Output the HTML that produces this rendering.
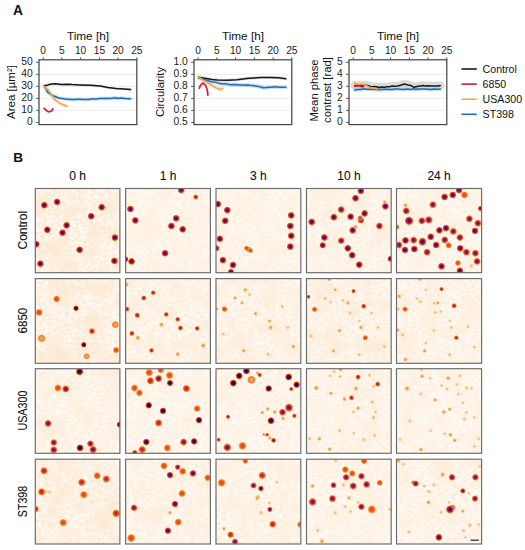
<!DOCTYPE html><html><head><meta charset="utf-8"><style>html,body{margin:0;padding:0;background:#fff;overflow:hidden}svg{display:block}text{font-family:"Liberation Sans", sans-serif}</style></head><body><svg width="525" height="550" viewBox="0 0 525 550"><defs><radialGradient id="gd"><stop offset="0" stop-color="#2a0640" stop-opacity="1"/><stop offset="0.25" stop-color="#50096a" stop-opacity="1"/><stop offset="0.45" stop-color="#8e1466" stop-opacity="1"/><stop offset="0.62" stop-color="#d02842" stop-opacity="1"/><stop offset="0.77" stop-color="#f06020" stop-opacity="1"/><stop offset="0.9" stop-color="#f8b030" stop-opacity="0.8"/><stop offset="1" stop-color="#fcd8a0" stop-opacity="0"/></radialGradient><radialGradient id="gp"><stop offset="0" stop-color="#5a0c6c" stop-opacity="1"/><stop offset="0.3" stop-color="#7e1470" stop-opacity="1"/><stop offset="0.5" stop-color="#c42a50" stop-opacity="1"/><stop offset="0.7" stop-color="#f06a24" stop-opacity="1"/><stop offset="0.87" stop-color="#f8b040" stop-opacity="0.6"/><stop offset="1" stop-color="#fcd8a0" stop-opacity="0"/></radialGradient><radialGradient id="gk"><stop offset="0" stop-color="#12061c" stop-opacity="1"/><stop offset="0.32" stop-color="#2a0838" stop-opacity="1"/><stop offset="0.52" stop-color="#701050" stop-opacity="1"/><stop offset="0.68" stop-color="#cc2a34" stop-opacity="1"/><stop offset="0.82" stop-color="#f47a22" stop-opacity="1"/><stop offset="0.93" stop-color="#f8b040" stop-opacity="0.6"/><stop offset="1" stop-color="#fcd8a0" stop-opacity="0"/></radialGradient><radialGradient id="gq"><stop offset="0" stop-color="#9a1a70" stop-opacity="1"/><stop offset="0.22" stop-color="#b8204e" stop-opacity="1"/><stop offset="0.45" stop-color="#e2401e" stop-opacity="1"/><stop offset="0.7" stop-color="#f26a18" stop-opacity="1"/><stop offset="0.86" stop-color="#f8a840" stop-opacity="0.7"/><stop offset="1" stop-color="#fcd8a0" stop-opacity="0"/></radialGradient><radialGradient id="go"><stop offset="0" stop-color="#e0401a" stop-opacity="1"/><stop offset="0.4" stop-color="#ec5618" stop-opacity="1"/><stop offset="0.66" stop-color="#f47e2c" stop-opacity="1"/><stop offset="0.85" stop-color="#f8b060" stop-opacity="0.6"/><stop offset="1" stop-color="#fcd8a0" stop-opacity="0"/></radialGradient><radialGradient id="gr"><stop offset="0" stop-color="#8a0c3c" stop-opacity="1"/><stop offset="0.28" stop-color="#c42030" stop-opacity="1"/><stop offset="0.6" stop-color="#ee6424" stop-opacity="1"/><stop offset="0.84" stop-color="#f8a860" stop-opacity="0.6"/><stop offset="1" stop-color="#fcd8a0" stop-opacity="0"/></radialGradient><radialGradient id="gl"><stop offset="0" stop-color="#f5a03c" stop-opacity="0.9"/><stop offset="0.5" stop-color="#f8bc6c" stop-opacity="0.6"/><stop offset="1" stop-color="#fbd8a8" stop-opacity="0"/></radialGradient><radialGradient id="gm"><stop offset="0" stop-color="#f28224" stop-opacity="1"/><stop offset="0.5" stop-color="#f6a44a" stop-opacity="0.8"/><stop offset="1" stop-color="#fcd8a0" stop-opacity="0"/></radialGradient><radialGradient id="gh"><stop offset="0" stop-color="#f6b070" stop-opacity="0.9"/><stop offset="0.45" stop-color="#f3903c" stop-opacity="1"/><stop offset="0.68" stop-color="#f07a28" stop-opacity="1"/><stop offset="0.85" stop-color="#f8a858" stop-opacity="0.6"/><stop offset="1" stop-color="#fcd8a0" stop-opacity="0"/></radialGradient></defs><filter id="tex" x="0" y="0" width="100%" height="100%"><feTurbulence type="fractalNoise" baseFrequency="0.25 0.45" numOctaves="2" seed="5" result="n1"/><feColorMatrix in="n1" type="matrix" values="0 0 0 0 0.98  0 0 0 0 0.80  0 0 0 0 0.62  3.5 0 0 0 -1.35" result="a1"/><feTurbulence type="fractalNoise" baseFrequency="0.05" numOctaves="2" seed="11" result="n2"/><feColorMatrix in="n2" type="matrix" values="0 0 0 0 0.98  0 0 0 0 0.82  0 0 0 0 0.66  3 0 0 0 -1.3" result="a2"/><feMerge><feMergeNode in="a2"/><feMergeNode in="a1"/></feMerge></filter><rect width="525" height="550" fill="#fff"/><text x="12.9" y="15.2" font-size="13.8" font-weight="bold" fill="#111">A</text><text x="13.2" y="161.5" font-size="13.6" font-weight="bold" fill="#111">B</text><rect x="39.0" y="59.8" width="97.80000000000001" height="64.8" fill="#fff"/><line x1="40.0" x2="135.8" y1="110.4" y2="110.4" stroke="#e6e6e6" stroke-width="0.8"/><line x1="40.0" x2="135.8" y1="98.4" y2="98.4" stroke="#e6e6e6" stroke-width="0.8"/><line x1="40.0" x2="135.8" y1="86.3" y2="86.3" stroke="#e6e6e6" stroke-width="0.8"/><line x1="40.0" x2="135.8" y1="74.3" y2="74.3" stroke="#e6e6e6" stroke-width="0.8"/><polyline points="44.4,85.6 46.9,85.4 49.1,84.5 52.0,84.0 55.2,83.7 58.0,84.0 60.6,84.4 63.5,84.4 66.7,84.2 72.0,84.6 80.0,84.9 90.0,85.2 100.0,86.0 108.0,87.5 116.0,88.5 124.0,89.0 130.5,89.6" fill="none" stroke="#bdbdbd" stroke-width="2.5" stroke-linejoin="round" stroke-linecap="round" opacity="0.55"/><polyline points="44.6,86.5 45.5,88.0 47.6,92.1 52.2,95.5 59.0,98.0 66.7,99.3 69.2,99.2 71.8,99.5 74.3,99.5 77.2,99.2 80.0,99.2 83.0,99.6 86.0,99.6 88.6,99.5 91.2,99.0 93.7,99.1 96.3,98.9 99.5,98.6 102.8,98.4 106.0,98.2 109.0,98.5 112.0,98.2 115.7,97.8 118.0,98.4 120.5,98.1 123.0,98.3 125.5,98.6 128.0,98.8 130.5,98.8" fill="none" stroke="#9cc4ea" stroke-width="3.5" stroke-linejoin="round" stroke-linecap="round" opacity="0.55"/><polyline points="44.6,86.5 46.0,88.2 48.4,90.2 51.4,94.8 55.2,100.1 59.8,103.1 63.0,104.8 66.7,106.2" fill="none" stroke="#f8cfa0" stroke-width="3.5" stroke-linejoin="round" stroke-linecap="round" opacity="0.55"/><polyline points="44.2,108.4 46.3,110.4 48.4,111.8 50.3,111.4 52.2,110.3 52.8,108.8" fill="none" stroke="#f0a0b0" stroke-width="2.5" stroke-linejoin="round" stroke-linecap="round" opacity="0.55"/><polyline points="44.4,85.6 46.9,85.4 49.1,84.5 52.0,84.0 55.2,83.7 58.0,84.0 60.6,84.4 63.5,84.4 66.7,84.2 72.0,84.6 80.0,84.9 90.0,85.2 100.0,86.0 108.0,87.5 116.0,88.5 124.0,89.0 130.5,89.6" fill="none" stroke="#1a1a1a" stroke-width="1.5" stroke-linejoin="round" stroke-linecap="round" opacity="1.0"/><polyline points="44.6,86.5 45.5,88.0 47.6,92.1 52.2,95.5 59.0,98.0 66.7,99.3 69.2,99.2 71.8,99.5 74.3,99.5 77.2,99.2 80.0,99.2 83.0,99.6 86.0,99.6 88.6,99.5 91.2,99.0 93.7,99.1 96.3,98.9 99.5,98.6 102.8,98.4 106.0,98.2 109.0,98.5 112.0,98.2 115.7,97.8 118.0,98.4 120.5,98.1 123.0,98.3 125.5,98.6 128.0,98.8 130.5,98.8" fill="none" stroke="#1f6fbf" stroke-width="1.5" stroke-linejoin="round" stroke-linecap="round" opacity="1.0"/><polyline points="44.6,86.5 46.0,88.2 48.4,90.2 51.4,94.8 55.2,100.1 59.8,103.1 63.0,104.8 66.7,106.2" fill="none" stroke="#f5a64a" stroke-width="1.5" stroke-linejoin="round" stroke-linecap="round" opacity="1.0"/><polyline points="44.2,108.4 46.3,110.4 48.4,111.8 50.3,111.4 52.2,110.3 52.8,108.8" fill="none" stroke="#d8163c" stroke-width="1.5" stroke-linejoin="round" stroke-linecap="round" opacity="1.0"/><rect x="39.0" y="59.8" width="97.80000000000001" height="64.8" fill="none" stroke="#474747" stroke-width="1.25"/><line x1="43.2" x2="43.2" y1="59.8" y2="57.3" stroke="#505050" stroke-width="1"/><text x="43.2" y="53.6" font-size="10.2" text-anchor="middle" fill="#222">0</text><line x1="61.9" x2="61.9" y1="59.8" y2="57.3" stroke="#505050" stroke-width="1"/><text x="61.9" y="53.6" font-size="10.2" text-anchor="middle" fill="#222">5</text><line x1="80.6" x2="80.6" y1="59.8" y2="57.3" stroke="#505050" stroke-width="1"/><text x="80.6" y="53.6" font-size="10.2" text-anchor="middle" fill="#222">10</text><line x1="99.4" x2="99.4" y1="59.8" y2="57.3" stroke="#505050" stroke-width="1"/><text x="99.4" y="53.6" font-size="10.2" text-anchor="middle" fill="#222">15</text><line x1="118.1" x2="118.1" y1="59.8" y2="57.3" stroke="#505050" stroke-width="1"/><text x="118.1" y="53.6" font-size="10.2" text-anchor="middle" fill="#222">20</text><line x1="136.8" x2="136.8" y1="59.8" y2="57.3" stroke="#505050" stroke-width="1"/><text x="136.8" y="53.6" font-size="10.2" text-anchor="middle" fill="#222">25</text><text x="88" y="40" font-size="11.8" text-anchor="middle" fill="#111">Time [h]</text><line x1="36.2" x2="39.0" y1="122.4" y2="122.4" stroke="#505050" stroke-width="1"/><text x="32.8" y="125.4" font-size="10.3" text-anchor="end" fill="#222">0</text><line x1="36.2" x2="39.0" y1="110.4" y2="110.4" stroke="#505050" stroke-width="1"/><text x="32.8" y="113.4" font-size="10.3" text-anchor="end" fill="#222">10</text><line x1="36.2" x2="39.0" y1="98.4" y2="98.4" stroke="#505050" stroke-width="1"/><text x="32.8" y="101.4" font-size="10.3" text-anchor="end" fill="#222">20</text><line x1="36.2" x2="39.0" y1="86.3" y2="86.3" stroke="#505050" stroke-width="1"/><text x="32.8" y="89.3" font-size="10.3" text-anchor="end" fill="#222">30</text><line x1="36.2" x2="39.0" y1="74.3" y2="74.3" stroke="#505050" stroke-width="1"/><text x="32.8" y="77.3" font-size="10.3" text-anchor="end" fill="#222">40</text><line x1="36.2" x2="39.0" y1="62.3" y2="62.3" stroke="#505050" stroke-width="1"/><text x="32.8" y="65.3" font-size="10.3" text-anchor="end" fill="#222">50</text><rect x="194.0" y="59.8" width="97.80000000000001" height="64.8" fill="#fff"/><line x1="195.0" x2="290.8" y1="110.4" y2="110.4" stroke="#e6e6e6" stroke-width="0.8"/><line x1="195.0" x2="290.8" y1="98.4" y2="98.4" stroke="#e6e6e6" stroke-width="0.8"/><line x1="195.0" x2="290.8" y1="86.3" y2="86.3" stroke="#e6e6e6" stroke-width="0.8"/><line x1="195.0" x2="290.8" y1="74.3" y2="74.3" stroke="#e6e6e6" stroke-width="0.8"/><polyline points="198.8,77.2 203.0,77.9 207.7,78.7 212.0,79.4 217.5,80.1 227.3,80.3 237.1,79.7 248.9,78.3 260.7,77.6 270.5,77.4 278.3,77.8 285.8,78.7" fill="none" stroke="#bdbdbd" stroke-width="3" stroke-linejoin="round" stroke-linecap="round" opacity="0.55"/><polyline points="198.8,77.8 203.0,79.2 207.7,80.5 210.8,81.7 214.0,81.9 217.7,82.9 221.4,83.8 224.7,83.7 227.9,84.3 231.2,84.7 233.8,84.4 236.4,84.7 239.1,85.0 241.7,85.0 244.3,85.2 246.9,85.0 249.8,85.3 252.8,85.5 255.8,86.0 258.7,86.5 263.6,87.7 266.3,87.6 269.0,87.2 271.7,87.3 274.4,86.8 277.2,86.9 280.1,87.2 282.9,87.3 285.8,87.2" fill="none" stroke="#9cc4ea" stroke-width="4" stroke-linejoin="round" stroke-linecap="round" opacity="0.55"/><polyline points="198.8,76.8 201.0,78.5 203.8,80.7 209.7,84.0 215.5,87.6 220.4,89.5 222.4,88.5" fill="none" stroke="#f8cfa0" stroke-width="4" stroke-linejoin="round" stroke-linecap="round" opacity="0.55"/><polyline points="199.3,88.2 200.6,85.0 203.0,83.1 205.2,84.8 206.8,88.5 207.6,92.0 207.8,95.2" fill="none" stroke="#f0a0b0" stroke-width="2.5" stroke-linejoin="round" stroke-linecap="round" opacity="0.55"/><polyline points="198.8,77.2 203.0,77.9 207.7,78.7 212.0,79.4 217.5,80.1 227.3,80.3 237.1,79.7 248.9,78.3 260.7,77.6 270.5,77.4 278.3,77.8 285.8,78.7" fill="none" stroke="#1a1a1a" stroke-width="1.5" stroke-linejoin="round" stroke-linecap="round" opacity="1.0"/><polyline points="198.8,77.8 203.0,79.2 207.7,80.5 210.8,81.7 214.0,81.9 217.7,82.9 221.4,83.8 224.7,83.7 227.9,84.3 231.2,84.7 233.8,84.4 236.4,84.7 239.1,85.0 241.7,85.0 244.3,85.2 246.9,85.0 249.8,85.3 252.8,85.5 255.8,86.0 258.7,86.5 263.6,87.7 266.3,87.6 269.0,87.2 271.7,87.3 274.4,86.8 277.2,86.9 280.1,87.2 282.9,87.3 285.8,87.2" fill="none" stroke="#1f6fbf" stroke-width="1.5" stroke-linejoin="round" stroke-linecap="round" opacity="1.0"/><polyline points="198.8,76.8 201.0,78.5 203.8,80.7 209.7,84.0 215.5,87.6 220.4,89.5 222.4,88.5" fill="none" stroke="#f5a64a" stroke-width="1.5" stroke-linejoin="round" stroke-linecap="round" opacity="1.0"/><polyline points="199.3,88.2 200.6,85.0 203.0,83.1 205.2,84.8 206.8,88.5 207.6,92.0 207.8,95.2" fill="none" stroke="#d8163c" stroke-width="1.5" stroke-linejoin="round" stroke-linecap="round" opacity="1.0"/><rect x="194.0" y="59.8" width="97.80000000000001" height="64.8" fill="none" stroke="#474747" stroke-width="1.25"/><line x1="198.2" x2="198.2" y1="59.8" y2="57.3" stroke="#505050" stroke-width="1"/><text x="198.2" y="53.6" font-size="10.2" text-anchor="middle" fill="#222">0</text><line x1="216.9" x2="216.9" y1="59.8" y2="57.3" stroke="#505050" stroke-width="1"/><text x="216.9" y="53.6" font-size="10.2" text-anchor="middle" fill="#222">5</text><line x1="235.6" x2="235.6" y1="59.8" y2="57.3" stroke="#505050" stroke-width="1"/><text x="235.6" y="53.6" font-size="10.2" text-anchor="middle" fill="#222">10</text><line x1="254.4" x2="254.4" y1="59.8" y2="57.3" stroke="#505050" stroke-width="1"/><text x="254.4" y="53.6" font-size="10.2" text-anchor="middle" fill="#222">15</text><line x1="273.1" x2="273.1" y1="59.8" y2="57.3" stroke="#505050" stroke-width="1"/><text x="273.1" y="53.6" font-size="10.2" text-anchor="middle" fill="#222">20</text><line x1="291.8" x2="291.8" y1="59.8" y2="57.3" stroke="#505050" stroke-width="1"/><text x="291.8" y="53.6" font-size="10.2" text-anchor="middle" fill="#222">25</text><text x="243" y="40" font-size="11.8" text-anchor="middle" fill="#111">Time [h]</text><line x1="191.2" x2="194.0" y1="122.4" y2="122.4" stroke="#505050" stroke-width="1"/><text x="187.8" y="125.4" font-size="10.3" text-anchor="end" fill="#222">0.5</text><line x1="191.2" x2="194.0" y1="110.4" y2="110.4" stroke="#505050" stroke-width="1"/><text x="187.8" y="113.4" font-size="10.3" text-anchor="end" fill="#222">0.6</text><line x1="191.2" x2="194.0" y1="98.4" y2="98.4" stroke="#505050" stroke-width="1"/><text x="187.8" y="101.4" font-size="10.3" text-anchor="end" fill="#222">0.7</text><line x1="191.2" x2="194.0" y1="86.3" y2="86.3" stroke="#505050" stroke-width="1"/><text x="187.8" y="89.3" font-size="10.3" text-anchor="end" fill="#222">0.8</text><line x1="191.2" x2="194.0" y1="74.3" y2="74.3" stroke="#505050" stroke-width="1"/><text x="187.8" y="77.3" font-size="10.3" text-anchor="end" fill="#222">0.9</text><line x1="191.2" x2="194.0" y1="62.3" y2="62.3" stroke="#505050" stroke-width="1"/><text x="187.8" y="65.3" font-size="10.3" text-anchor="end" fill="#222">1.0</text><rect x="349.0" y="59.8" width="97.80000000000001" height="64.8" fill="#fff"/><line x1="350.0" x2="445.8" y1="110.4" y2="110.4" stroke="#e6e6e6" stroke-width="0.8"/><line x1="350.0" x2="445.8" y1="98.4" y2="98.4" stroke="#e6e6e6" stroke-width="0.8"/><line x1="350.0" x2="445.8" y1="86.3" y2="86.3" stroke="#e6e6e6" stroke-width="0.8"/><line x1="350.0" x2="445.8" y1="74.3" y2="74.3" stroke="#e6e6e6" stroke-width="0.8"/><polyline points="354.8,85.6 357.0,85.7 359.1,85.4 361.3,85.4 363.5,85.3 366.1,85.3 368.7,85.7 371.3,86.9 373.9,86.6 376.5,86.7 379.1,87.5 381.7,87.0 384.3,87.2 386.9,86.8 389.5,86.7 392.0,86.1 394.6,86.3 397.6,86.0 400.5,85.2 404.3,84.0 408.2,85.0 411.1,85.6 414.1,87.3 418.0,86.3 420.6,85.9 423.1,85.5 425.7,86.1 428.3,85.8 430.9,86.0 433.5,86.1 435.8,85.9 438.0,86.0 440.3,85.6" fill="none" stroke="#bdbdbd" stroke-width="8.5" stroke-linejoin="round" stroke-linecap="round" opacity="0.55"/><polyline points="354.8,90.0 357.7,89.6 360.6,89.5 363.5,88.8 366.4,89.2 369.2,89.3 372.1,89.2 375.0,89.6 378.0,89.3 380.9,89.5 383.9,89.3 386.9,89.3 389.5,89.4 392.1,89.6 394.8,89.1 397.4,89.1 400.0,89.3 402.7,89.5 405.3,89.2 408.0,89.1 410.7,89.4 413.3,88.8 416.0,89.3 419.0,89.0 422.0,89.0 425.0,89.0 428.0,89.2 431.1,89.4 434.1,89.0 437.2,89.2 440.3,89.1" fill="none" stroke="#9cc4ea" stroke-width="3.5" stroke-linejoin="round" stroke-linecap="round" opacity="0.55"/><polyline points="354.8,83.0 358.0,84.5 362.0,84.0 366.0,85.5 370.0,87.5 377.1,89.1" fill="none" stroke="#f8cfa0" stroke-width="5" stroke-linejoin="round" stroke-linecap="round" opacity="0.55"/><polyline points="354.8,86.2 358.0,85.5 361.0,86.5 363.5,86.8" fill="none" stroke="#f0a0b0" stroke-width="3" stroke-linejoin="round" stroke-linecap="round" opacity="0.55"/><polyline points="354.8,85.6 357.0,85.7 359.1,85.4 361.3,85.4 363.5,85.3 366.1,85.3 368.7,85.7 371.3,86.9 373.9,86.6 376.5,86.7 379.1,87.5 381.7,87.0 384.3,87.2 386.9,86.8 389.5,86.7 392.0,86.1 394.6,86.3 397.6,86.0 400.5,85.2 404.3,84.0 408.2,85.0 411.1,85.6 414.1,87.3 418.0,86.3 420.6,85.9 423.1,85.5 425.7,86.1 428.3,85.8 430.9,86.0 433.5,86.1 435.8,85.9 438.0,86.0 440.3,85.6" fill="none" stroke="#1a1a1a" stroke-width="1.5" stroke-linejoin="round" stroke-linecap="round" opacity="1.0"/><polyline points="354.8,90.0 357.7,89.6 360.6,89.5 363.5,88.8 366.4,89.2 369.2,89.3 372.1,89.2 375.0,89.6 378.0,89.3 380.9,89.5 383.9,89.3 386.9,89.3 389.5,89.4 392.1,89.6 394.8,89.1 397.4,89.1 400.0,89.3 402.7,89.5 405.3,89.2 408.0,89.1 410.7,89.4 413.3,88.8 416.0,89.3 419.0,89.0 422.0,89.0 425.0,89.0 428.0,89.2 431.1,89.4 434.1,89.0 437.2,89.2 440.3,89.1" fill="none" stroke="#1f6fbf" stroke-width="1.5" stroke-linejoin="round" stroke-linecap="round" opacity="1.0"/><polyline points="354.8,83.0 358.0,84.5 362.0,84.0 366.0,85.5 370.0,87.5 377.1,89.1" fill="none" stroke="#f5a64a" stroke-width="1.5" stroke-linejoin="round" stroke-linecap="round" opacity="1.0"/><polyline points="354.8,86.2 358.0,85.5 361.0,86.5 363.5,86.8" fill="none" stroke="#d8163c" stroke-width="1.5" stroke-linejoin="round" stroke-linecap="round" opacity="1.0"/><rect x="349.0" y="59.8" width="97.80000000000001" height="64.8" fill="none" stroke="#474747" stroke-width="1.25"/><line x1="353.2" x2="353.2" y1="59.8" y2="57.3" stroke="#505050" stroke-width="1"/><text x="353.2" y="53.6" font-size="10.2" text-anchor="middle" fill="#222">0</text><line x1="371.9" x2="371.9" y1="59.8" y2="57.3" stroke="#505050" stroke-width="1"/><text x="371.9" y="53.6" font-size="10.2" text-anchor="middle" fill="#222">5</text><line x1="390.6" x2="390.6" y1="59.8" y2="57.3" stroke="#505050" stroke-width="1"/><text x="390.6" y="53.6" font-size="10.2" text-anchor="middle" fill="#222">10</text><line x1="409.4" x2="409.4" y1="59.8" y2="57.3" stroke="#505050" stroke-width="1"/><text x="409.4" y="53.6" font-size="10.2" text-anchor="middle" fill="#222">15</text><line x1="428.1" x2="428.1" y1="59.8" y2="57.3" stroke="#505050" stroke-width="1"/><text x="428.1" y="53.6" font-size="10.2" text-anchor="middle" fill="#222">20</text><line x1="446.8" x2="446.8" y1="59.8" y2="57.3" stroke="#505050" stroke-width="1"/><text x="446.8" y="53.6" font-size="10.2" text-anchor="middle" fill="#222">25</text><text x="398" y="40" font-size="11.8" text-anchor="middle" fill="#111">Time [h]</text><line x1="346.2" x2="349.0" y1="122.4" y2="122.4" stroke="#505050" stroke-width="1"/><text x="342.8" y="125.4" font-size="10.3" text-anchor="end" fill="#222">0</text><line x1="346.2" x2="349.0" y1="110.4" y2="110.4" stroke="#505050" stroke-width="1"/><text x="342.8" y="113.4" font-size="10.3" text-anchor="end" fill="#222">1</text><line x1="346.2" x2="349.0" y1="98.4" y2="98.4" stroke="#505050" stroke-width="1"/><text x="342.8" y="101.4" font-size="10.3" text-anchor="end" fill="#222">2</text><line x1="346.2" x2="349.0" y1="86.3" y2="86.3" stroke="#505050" stroke-width="1"/><text x="342.8" y="89.3" font-size="10.3" text-anchor="end" fill="#222">3</text><line x1="346.2" x2="349.0" y1="74.3" y2="74.3" stroke="#505050" stroke-width="1"/><text x="342.8" y="77.3" font-size="10.3" text-anchor="end" fill="#222">4</text><line x1="346.2" x2="349.0" y1="62.3" y2="62.3" stroke="#505050" stroke-width="1"/><text x="342.8" y="65.3" font-size="10.3" text-anchor="end" fill="#222">5</text><text transform="translate(14.6,92) rotate(-90)" font-size="11.5" text-anchor="middle" fill="#111">Area [µm²]</text><text transform="translate(164.4,92) rotate(-90)" font-size="11.3" text-anchor="middle" fill="#111">Circularity</text><text transform="translate(318.2,90.5) rotate(-90)" font-size="11.3" text-anchor="middle" fill="#111">Mean phase</text><text transform="translate(330.6,90) rotate(-90)" font-size="11.3" text-anchor="middle" fill="#111">contrast [rad]</text><line x1="461.5" x2="476.8" y1="69.0" y2="69.0" stroke="#1a1a1a" stroke-width="1.6"/><text x="482.6" y="72.8" font-size="10.6" fill="#111">Control</text><line x1="461.5" x2="476.8" y1="84.1" y2="84.1" stroke="#d8163c" stroke-width="1.6"/><text x="482.6" y="87.9" font-size="10.6" fill="#111">6850</text><line x1="461.5" x2="476.8" y1="99.2" y2="99.2" stroke="#f5a64a" stroke-width="1.6"/><text x="482.6" y="103.0" font-size="10.6" fill="#111">USA300</text><line x1="461.5" x2="476.8" y1="114.3" y2="114.3" stroke="#1f6fbf" stroke-width="1.6"/><text x="482.6" y="118.1" font-size="10.6" fill="#111">ST398</text><text x="77.6" y="180.4" font-size="12" text-anchor="middle" fill="#111" stroke="#111" stroke-width="0.1">0 h</text><text x="168.0" y="180.4" font-size="12" text-anchor="middle" fill="#111" stroke="#111" stroke-width="0.1">1 h</text><text x="258.4" y="180.4" font-size="12" text-anchor="middle" fill="#111" stroke="#111" stroke-width="0.1">3 h</text><text x="348.9" y="180.4" font-size="12" text-anchor="middle" fill="#111" stroke="#111" stroke-width="0.1">10 h</text><text x="439.1" y="180.4" font-size="12" text-anchor="middle" fill="#111" stroke="#111" stroke-width="0.1">24 h</text><text transform="translate(27.4,230.2) rotate(-90)" font-size="12.4" text-anchor="middle" textLength="38.6" lengthAdjust="spacingAndGlyphs" fill="#111" stroke="#111" stroke-width="0.1">Control</text><text transform="translate(27.4,320.6) rotate(-90)" font-size="12.4" text-anchor="middle" textLength="25.6" lengthAdjust="spacingAndGlyphs" fill="#111" stroke="#111" stroke-width="0.1">6850</text><text transform="translate(27.4,410.6) rotate(-90)" font-size="12.4" text-anchor="middle" textLength="40.0" lengthAdjust="spacingAndGlyphs" fill="#111" stroke="#111" stroke-width="0.1">USA300</text><text transform="translate(27.4,501.5) rotate(-90)" font-size="12.4" text-anchor="middle" textLength="31.3" lengthAdjust="spacingAndGlyphs" fill="#111" stroke="#111" stroke-width="0.1">ST398</text><clipPath id="cp00"><rect x="35.3" y="188.5" width="84.6" height="84.2"/></clipPath><g clip-path="url(#cp00)"><rect x="35.3" y="188.5" width="84.6" height="84.2" fill="#fffaf5"/><g transform="rotate(-35 77.8 231.0)"><rect x="10.299999999999997" y="163.5" width="135.0" height="135.0" filter="url(#tex)" opacity="0.95"/></g><circle cx="44.3" cy="205.2" r="3.75" fill="url(#gd)"/><circle cx="57.1" cy="201.9" r="3.75" fill="url(#gd)"/><circle cx="101.7" cy="207.2" r="3.75" fill="url(#gd)"/><circle cx="91.2" cy="216.2" r="3.75" fill="url(#gd)"/><circle cx="66.6" cy="225.3" r="3.75" fill="url(#gd)"/><circle cx="47.3" cy="229.8" r="3.75" fill="url(#gd)"/><circle cx="62.5" cy="232.7" r="3.75" fill="url(#gd)"/><circle cx="114.9" cy="237.6" r="3.75" fill="url(#gd)"/><circle cx="36.3" cy="244.2" r="3.75" fill="url(#gd)"/><circle cx="79.6" cy="249.8" r="3.75" fill="url(#gd)"/><circle cx="40.4" cy="263.7" r="3.75" fill="url(#gd)"/><circle cx="114.4" cy="260.9" r="3.75" fill="url(#gd)"/></g><rect x="35.3" y="188.5" width="84.6" height="84.2" fill="none" stroke="#6e6e6e" stroke-width="1.2"/><clipPath id="cp01"><rect x="125.6" y="188.5" width="84.8" height="84.2"/></clipPath><g clip-path="url(#cp01)"><rect x="125.6" y="188.5" width="84.8" height="84.2" fill="#fffaf5"/><g transform="rotate(-15 168.1 231.0)"><rect x="100.6" y="163.5" width="135.0" height="135.0" filter="url(#tex)" opacity="0.55"/></g><circle cx="181.2" cy="190.0" r="3.75" fill="url(#gd)"/><circle cx="195.8" cy="197.0" r="3.00" fill="url(#gr)"/><circle cx="130.4" cy="209.0" r="3.75" fill="url(#gd)"/><circle cx="135.3" cy="220.4" r="3.75" fill="url(#gd)"/><circle cx="176.1" cy="218.3" r="3.75" fill="url(#gd)"/><circle cx="171.4" cy="226.0" r="3.75" fill="url(#gd)"/><circle cx="182.7" cy="229.3" r="3.75" fill="url(#gd)"/><circle cx="165.1" cy="253.2" r="3.75" fill="url(#gd)"/><circle cx="131.6" cy="261.4" r="3.75" fill="url(#gd)"/><circle cx="125.5" cy="259.3" r="3.20" fill="url(#gd)"/></g><rect x="125.6" y="188.5" width="84.8" height="84.2" fill="none" stroke="#6e6e6e" stroke-width="1.2"/><clipPath id="cp02"><rect x="216.0" y="188.5" width="84.8" height="84.2"/></clipPath><g clip-path="url(#cp02)"><rect x="216.0" y="188.5" width="84.8" height="84.2" fill="#fffaf5"/><g transform="rotate(5 258.5 231.0)"><rect x="191.0" y="163.5" width="135.0" height="135.0" filter="url(#tex)" opacity="0.55"/></g><circle cx="217.9" cy="204.1" r="3.75" fill="url(#gd)"/><circle cx="227.3" cy="210.1" r="3.75" fill="url(#gd)"/><circle cx="225.2" cy="220.8" r="3.75" fill="url(#gd)"/><circle cx="219.9" cy="238.8" r="3.75" fill="url(#gd)"/><circle cx="216.3" cy="248.3" r="3.40" fill="url(#gd)"/><circle cx="222.9" cy="260.1" r="3.75" fill="url(#gd)"/><circle cx="233.0" cy="265.0" r="3.75" fill="url(#gd)"/><circle cx="231.0" cy="271.9" r="3.40" fill="url(#gd)"/><circle cx="291.2" cy="215.4" r="3.75" fill="url(#gd)"/><circle cx="290.3" cy="226.0" r="3.75" fill="url(#gd)"/><circle cx="291.2" cy="235.8" r="3.75" fill="url(#gd)"/><circle cx="290.3" cy="246.6" r="3.75" fill="url(#gd)"/><circle cx="248.6" cy="249.4" r="3.20" fill="url(#go)"/><circle cx="246.5" cy="248.2" r="2.80" fill="url(#go)"/><circle cx="250.5" cy="250.6" r="2.80" fill="url(#go)"/></g><rect x="216.0" y="188.5" width="84.8" height="84.2" fill="none" stroke="#6e6e6e" stroke-width="1.2"/><clipPath id="cp03"><rect x="306.5" y="188.5" width="84.7" height="84.2"/></clipPath><g clip-path="url(#cp03)"><rect x="306.5" y="188.5" width="84.7" height="84.2" fill="#fffaf5"/><g transform="rotate(-35 349.0 231.0)"><rect x="281.5" y="163.5" width="135.0" height="135.0" filter="url(#tex)" opacity="0.65"/></g><circle cx="360.9" cy="190.9" r="3.75" fill="url(#gd)"/><circle cx="355.5" cy="198.2" r="3.75" fill="url(#gd)"/><circle cx="385.4" cy="206.3" r="3.75" fill="url(#gd)"/><circle cx="384.7" cy="202.0" r="2.40" fill="url(#gm)"/><circle cx="341.2" cy="209.6" r="4.00" fill="url(#gp)"/><circle cx="333.8" cy="217.2" r="3.75" fill="url(#gd)"/><circle cx="350.6" cy="216.7" r="3.75" fill="url(#gd)"/><circle cx="364.6" cy="213.4" r="3.75" fill="url(#gd)"/><circle cx="360.9" cy="220.2" r="3.80" fill="url(#gp)"/><circle cx="360.2" cy="218.0" r="3.00" fill="url(#go)"/><circle cx="311.7" cy="221.9" r="3.75" fill="url(#gd)"/><circle cx="379.4" cy="226.0" r="4.00" fill="url(#gp)"/><circle cx="352.7" cy="230.3" r="3.75" fill="url(#gd)"/><circle cx="355.5" cy="226.8" r="2.60" fill="url(#gm)"/><circle cx="324.3" cy="237.5" r="3.75" fill="url(#gd)"/><circle cx="322.7" cy="245.3" r="3.40" fill="url(#gd)"/><circle cx="341.2" cy="240.7" r="3.80" fill="url(#gp)"/><circle cx="347.8" cy="248.3" r="3.75" fill="url(#gd)"/><circle cx="352.2" cy="255.2" r="3.75" fill="url(#gd)"/><circle cx="359.2" cy="264.7" r="3.75" fill="url(#gd)"/><circle cx="390.4" cy="258.8" r="3.20" fill="url(#gd)"/></g><rect x="306.5" y="188.5" width="84.7" height="84.2" fill="none" stroke="#6e6e6e" stroke-width="1.2"/><clipPath id="cp04"><rect x="396.5" y="188.5" width="85.1" height="84.2"/></clipPath><g clip-path="url(#cp04)"><rect x="396.5" y="188.5" width="85.1" height="84.2" fill="#fffaf5"/><g transform="rotate(-15 439.0 231.0)"><rect x="371.5" y="163.5" width="135.0" height="135.0" filter="url(#tex)" opacity="0.55"/></g><circle cx="459.1" cy="190.0" r="3.75" fill="url(#gd)"/><circle cx="444.6" cy="197.0" r="3.75" fill="url(#gd)"/><circle cx="452.8" cy="194.9" r="3.75" fill="url(#gd)"/><circle cx="464.5" cy="194.9" r="4.00" fill="url(#go)"/><circle cx="432.9" cy="204.7" r="4.00" fill="url(#gp)"/><circle cx="405.5" cy="205.2" r="2.80" fill="url(#gm)"/><circle cx="406.2" cy="210.9" r="4.00" fill="url(#gp)"/><circle cx="409.1" cy="220.8" r="4.60" fill="url(#gd)"/><circle cx="421.9" cy="220.8" r="4.00" fill="url(#gp)"/><circle cx="428.8" cy="219.9" r="4.30" fill="url(#gp)"/><circle cx="469.4" cy="218.8" r="4.00" fill="url(#gp)"/><circle cx="477.9" cy="223.2" r="4.00" fill="url(#gp)"/><circle cx="480.4" cy="208.5" r="3.00" fill="url(#gp)"/><circle cx="396.8" cy="227.0" r="3.00" fill="url(#go)"/><circle cx="439.4" cy="230.3" r="3.75" fill="url(#gd)"/><circle cx="446.0" cy="228.1" r="3.75" fill="url(#gd)"/><circle cx="453.3" cy="231.4" r="4.00" fill="url(#gp)"/><circle cx="475.0" cy="230.9" r="3.75" fill="url(#gd)"/><circle cx="430.7" cy="236.8" r="3.75" fill="url(#gd)"/><circle cx="444.8" cy="239.9" r="4.00" fill="url(#gp)"/><circle cx="459.9" cy="237.5" r="4.00" fill="url(#gp)"/><circle cx="405.5" cy="240.4" r="3.75" fill="url(#gd)"/><circle cx="413.7" cy="240.1" r="4.00" fill="url(#gp)"/><circle cx="422.5" cy="241.7" r="4.30" fill="url(#gd)"/><circle cx="436.1" cy="245.0" r="3.75" fill="url(#gd)"/><circle cx="448.7" cy="245.3" r="3.50" fill="url(#go)"/><circle cx="398.9" cy="245.0" r="4.00" fill="url(#gp)"/><circle cx="405.0" cy="249.9" r="3.75" fill="url(#gd)"/><circle cx="414.3" cy="249.1" r="3.75" fill="url(#gd)"/><circle cx="427.1" cy="252.2" r="4.00" fill="url(#gp)"/><circle cx="460.2" cy="248.3" r="3.75" fill="url(#gd)"/><circle cx="466.4" cy="252.2" r="4.00" fill="url(#gp)"/><circle cx="475.4" cy="253.2" r="4.00" fill="url(#gp)"/><circle cx="477.1" cy="261.4" r="4.00" fill="url(#gp)"/><circle cx="457.9" cy="263.0" r="3.30" fill="url(#go)"/><circle cx="441.5" cy="266.3" r="3.75" fill="url(#gd)"/><circle cx="459.9" cy="270.7" r="3.75" fill="url(#gd)"/><circle cx="471.3" cy="265.8" r="2.80" fill="url(#gl)"/></g><rect x="396.5" y="188.5" width="85.1" height="84.2" fill="none" stroke="#6e6e6e" stroke-width="1.2"/><clipPath id="cp10"><rect x="35.3" y="278.6" width="84.6" height="84.7"/></clipPath><g clip-path="url(#cp10)"><rect x="35.3" y="278.6" width="84.6" height="84.7" fill="#fffaf5"/><g transform="rotate(-15 77.8 321.1)"><rect x="10.299999999999997" y="253.60000000000002" width="135.0" height="135.0" filter="url(#tex)" opacity="0.95"/></g><circle cx="56.6" cy="299.0" r="3.80" fill="url(#go)"/><circle cx="39.1" cy="312.4" r="4.00" fill="url(#go)"/><circle cx="76.0" cy="308.3" r="3.00" fill="url(#gk)"/><circle cx="92.0" cy="331.2" r="3.60" fill="url(#gr)"/><circle cx="115.3" cy="324.7" r="4.00" fill="url(#gh)"/><circle cx="41.6" cy="338.3" r="4.20" fill="url(#gh)"/><circle cx="83.8" cy="344.8" r="3.00" fill="url(#gk)"/><circle cx="116.1" cy="350.1" r="3.60" fill="url(#go)"/><circle cx="86.6" cy="356.3" r="3.40" fill="url(#gh)"/></g><rect x="35.3" y="278.6" width="84.6" height="84.7" fill="none" stroke="#6e6e6e" stroke-width="1.2"/><clipPath id="cp11"><rect x="125.6" y="278.6" width="84.8" height="84.7"/></clipPath><g clip-path="url(#cp11)"><rect x="125.6" y="278.6" width="84.8" height="84.7" fill="#fffaf5"/><g transform="rotate(5 168.1 321.1)"><rect x="100.6" y="253.60000000000002" width="135.0" height="135.0" filter="url(#tex)" opacity="0.75"/></g><circle cx="126.6" cy="284.6" r="2.60" fill="url(#gm)"/><circle cx="153.2" cy="292.7" r="2.80" fill="url(#gr)"/><circle cx="143.8" cy="298.0" r="3.00" fill="url(#gr)"/><circle cx="127.0" cy="309.1" r="2.80" fill="url(#gr)"/><circle cx="137.3" cy="315.3" r="3.20" fill="url(#gr)"/><circle cx="166.3" cy="314.4" r="2.80" fill="url(#gr)"/><circle cx="177.7" cy="319.3" r="2.80" fill="url(#gr)"/><circle cx="161.4" cy="324.7" r="2.80" fill="url(#gm)"/><circle cx="180.4" cy="328.0" r="3.00" fill="url(#gr)"/><circle cx="197.1" cy="328.4" r="2.80" fill="url(#gr)"/><circle cx="131.9" cy="333.4" r="3.00" fill="url(#gr)"/><circle cx="137.8" cy="337.8" r="3.00" fill="url(#gm)"/><circle cx="151.5" cy="350.4" r="2.80" fill="url(#gr)"/><circle cx="203.3" cy="345.5" r="3.00" fill="url(#gm)"/><circle cx="177.7" cy="354.2" r="2.80" fill="url(#gm)"/></g><rect x="125.6" y="278.6" width="84.8" height="84.7" fill="none" stroke="#6e6e6e" stroke-width="1.2"/><clipPath id="cp12"><rect x="216.0" y="278.6" width="84.8" height="84.7"/></clipPath><g clip-path="url(#cp12)"><rect x="216.0" y="278.6" width="84.8" height="84.7" fill="#fffaf5"/><g transform="rotate(-35 258.5 321.1)"><rect x="191.0" y="253.60000000000002" width="135.0" height="135.0" filter="url(#tex)" opacity="0.75"/></g><circle cx="245.3" cy="289.8" r="2.40" fill="url(#gm)"/><circle cx="249.7" cy="294.7" r="2.40" fill="url(#gl)"/><circle cx="235.0" cy="298.0" r="2.40" fill="url(#gm)"/><circle cx="242.0" cy="302.9" r="2.20" fill="url(#gm)"/><circle cx="224.5" cy="309.1" r="3.20" fill="url(#go)"/><circle cx="216.6" cy="308.8" r="2.40" fill="url(#gm)"/><circle cx="255.6" cy="313.7" r="2.40" fill="url(#gm)"/><circle cx="282.5" cy="306.7" r="2.40" fill="url(#gl)"/><circle cx="269.4" cy="320.9" r="2.20" fill="url(#gm)"/><circle cx="270.7" cy="327.5" r="2.60" fill="url(#gm)"/><circle cx="287.9" cy="327.5" r="2.40" fill="url(#gl)"/><circle cx="223.2" cy="334.0" r="2.60" fill="url(#gl)"/><circle cx="243.7" cy="350.9" r="2.40" fill="url(#gm)"/><circle cx="293.3" cy="346.5" r="2.40" fill="url(#gm)"/><circle cx="268.2" cy="354.2" r="2.60" fill="url(#gl)"/></g><rect x="216.0" y="278.6" width="84.8" height="84.7" fill="none" stroke="#6e6e6e" stroke-width="1.2"/><clipPath id="cp13"><rect x="306.5" y="278.6" width="84.7" height="84.7"/></clipPath><g clip-path="url(#cp13)"><rect x="306.5" y="278.6" width="84.7" height="84.7" fill="#fffaf5"/><g transform="rotate(-15 349.0 321.1)"><rect x="281.5" y="253.60000000000002" width="135.0" height="135.0" filter="url(#tex)" opacity="0.80"/></g><circle cx="329.3" cy="279.3" r="2.40" fill="url(#gm)"/><circle cx="335.2" cy="289.8" r="2.20" fill="url(#gm)"/><circle cx="353.5" cy="291.1" r="2.50" fill="url(#gr)"/><circle cx="308.5" cy="296.8" r="2.40" fill="url(#gr)"/><circle cx="325.3" cy="298.5" r="2.40" fill="url(#gl)"/><circle cx="330.6" cy="302.2" r="2.20" fill="url(#gl)"/><circle cx="342.9" cy="300.6" r="2.20" fill="url(#gl)"/><circle cx="347.8" cy="302.9" r="2.40" fill="url(#gm)"/><circle cx="363.7" cy="306.2" r="2.90" fill="url(#gr)"/><circle cx="314.5" cy="309.4" r="3.00" fill="url(#go)"/><circle cx="371.5" cy="313.2" r="2.40" fill="url(#gl)"/><circle cx="350.2" cy="313.2" r="2.40" fill="url(#gl)"/><circle cx="359.2" cy="320.9" r="2.20" fill="url(#gl)"/><circle cx="360.9" cy="327.5" r="2.40" fill="url(#gm)"/><circle cx="378.1" cy="327.5" r="2.40" fill="url(#gl)"/><circle cx="339.6" cy="330.7" r="2.40" fill="url(#gm)"/><circle cx="310.9" cy="336.1" r="2.60" fill="url(#gl)"/><circle cx="365.3" cy="337.8" r="3.00" fill="url(#go)"/><circle cx="333.5" cy="350.9" r="2.20" fill="url(#gm)"/><circle cx="359.2" cy="354.7" r="2.60" fill="url(#gl)"/><circle cx="384.3" cy="346.5" r="2.40" fill="url(#gl)"/></g><rect x="306.5" y="278.6" width="84.7" height="84.7" fill="none" stroke="#6e6e6e" stroke-width="1.2"/><clipPath id="cp14"><rect x="396.5" y="278.6" width="85.1" height="84.7"/></clipPath><g clip-path="url(#cp14)"><rect x="396.5" y="278.6" width="85.1" height="84.7" fill="#fffaf5"/><g transform="rotate(5 439.0 321.1)"><rect x="371.5" y="253.60000000000002" width="135.0" height="135.0" filter="url(#tex)" opacity="0.70"/></g><circle cx="419.8" cy="279.3" r="2.40" fill="url(#gm)"/><circle cx="425.8" cy="289.8" r="2.20" fill="url(#gl)"/><circle cx="441.5" cy="289.1" r="2.50" fill="url(#gr)"/><circle cx="399.3" cy="296.3" r="2.60" fill="url(#gm)"/><circle cx="417.0" cy="298.5" r="2.20" fill="url(#gl)"/><circle cx="420.2" cy="301.8" r="2.40" fill="url(#gl)"/><circle cx="437.8" cy="302.9" r="2.40" fill="url(#gm)"/><circle cx="434.0" cy="303.4" r="2.20" fill="url(#gl)"/><circle cx="454.1" cy="305.8" r="3.00" fill="url(#gr)"/><circle cx="405.0" cy="309.1" r="3.00" fill="url(#go)"/><circle cx="435.3" cy="312.4" r="2.40" fill="url(#gl)"/><circle cx="441.0" cy="311.6" r="2.20" fill="url(#gl)"/><circle cx="398.0" cy="309.1" r="2.40" fill="url(#gl)"/><circle cx="450.0" cy="320.9" r="2.20" fill="url(#gl)"/><circle cx="451.4" cy="327.5" r="2.60" fill="url(#gl)"/><circle cx="468.1" cy="326.8" r="2.40" fill="url(#gl)"/><circle cx="433.7" cy="330.7" r="2.20" fill="url(#gl)"/><circle cx="397.6" cy="330.1" r="2.60" fill="url(#gm)"/><circle cx="402.6" cy="335.0" r="2.60" fill="url(#gl)"/><circle cx="456.3" cy="337.8" r="2.70" fill="url(#gr)"/><circle cx="425.8" cy="343.2" r="2.20" fill="url(#gl)"/><circle cx="424.7" cy="350.9" r="2.60" fill="url(#gm)"/><circle cx="449.7" cy="354.7" r="2.60" fill="url(#gl)"/><circle cx="405.5" cy="359.6" r="2.60" fill="url(#gm)"/><circle cx="474.3" cy="347.1" r="2.40" fill="url(#gl)"/></g><rect x="396.5" y="278.6" width="85.1" height="84.7" fill="none" stroke="#6e6e6e" stroke-width="1.2"/><clipPath id="cp20"><rect x="35.3" y="368.7" width="84.6" height="84.6"/></clipPath><g clip-path="url(#cp20)"><rect x="35.3" y="368.7" width="84.6" height="84.6" fill="#fffaf5"/><g transform="rotate(5 77.8 411.2)"><rect x="10.299999999999997" y="343.7" width="135.0" height="135.0" filter="url(#tex)" opacity="0.70"/></g><circle cx="79.6" cy="371.6" r="4.00" fill="url(#gk)"/><circle cx="57.9" cy="388.0" r="4.00" fill="url(#go)"/><circle cx="65.8" cy="389.0" r="4.00" fill="url(#gp)"/><circle cx="48.1" cy="423.4" r="4.00" fill="url(#gp)"/><circle cx="119.8" cy="424.5" r="3.40" fill="url(#gk)"/><circle cx="53.8" cy="442.5" r="3.80" fill="url(#gp)"/><circle cx="53.8" cy="449.9" r="4.00" fill="url(#gp)"/><circle cx="80.0" cy="447.9" r="3.80" fill="url(#gk)"/><circle cx="90.4" cy="443.7" r="3.80" fill="url(#gp)"/><circle cx="93.1" cy="449.6" r="4.20" fill="url(#gp)"/></g><rect x="35.3" y="368.7" width="84.6" height="84.6" fill="none" stroke="#6e6e6e" stroke-width="1.2"/><clipPath id="cp21"><rect x="125.6" y="368.7" width="84.8" height="84.6"/></clipPath><g clip-path="url(#cp21)"><rect x="125.6" y="368.7" width="84.8" height="84.6" fill="#fffaf5"/><g transform="rotate(-35 168.1 411.2)"><rect x="100.6" y="343.7" width="135.0" height="135.0" filter="url(#tex)" opacity="0.55"/></g><circle cx="149.2" cy="372.6" r="4.20" fill="url(#go)"/><circle cx="160.7" cy="370.0" r="3.60" fill="url(#go)"/><circle cx="169.6" cy="375.4" r="4.20" fill="url(#go)"/><circle cx="150.4" cy="380.8" r="4.00" fill="url(#gq)"/><circle cx="158.6" cy="378.6" r="4.00" fill="url(#gp)"/><circle cx="170.0" cy="383.0" r="3.40" fill="url(#gk)"/><circle cx="134.5" cy="388.0" r="4.00" fill="url(#go)"/><circle cx="139.4" cy="392.9" r="3.80" fill="url(#go)"/><circle cx="186.4" cy="388.5" r="4.00" fill="url(#gq)"/><circle cx="148.8" cy="405.3" r="3.60" fill="url(#gk)"/><circle cx="163.0" cy="410.9" r="3.60" fill="url(#gk)"/><circle cx="197.1" cy="408.6" r="3.80" fill="url(#go)"/><circle cx="158.6" cy="422.9" r="4.00" fill="url(#gq)"/><circle cx="199.0" cy="420.1" r="3.60" fill="url(#gk)"/><circle cx="146.3" cy="442.0" r="3.60" fill="url(#gk)"/><circle cx="183.6" cy="442.0" r="4.00" fill="url(#gp)"/><circle cx="194.1" cy="441.4" r="3.60" fill="url(#gk)"/><circle cx="167.3" cy="447.9" r="4.00" fill="url(#go)"/><circle cx="142.2" cy="449.6" r="4.00" fill="url(#gq)"/><circle cx="134.8" cy="452.8" r="3.20" fill="url(#gp)"/></g><rect x="125.6" y="368.7" width="84.8" height="84.6" fill="none" stroke="#6e6e6e" stroke-width="1.2"/><clipPath id="cp22"><rect x="216.0" y="368.7" width="84.8" height="84.6"/></clipPath><g clip-path="url(#cp22)"><rect x="216.0" y="368.7" width="84.8" height="84.6" fill="#fffaf5"/><g transform="rotate(-15 258.5 411.2)"><rect x="191.0" y="343.7" width="135.0" height="135.0" filter="url(#tex)" opacity="0.55"/></g><circle cx="246.4" cy="370.9" r="3.80" fill="url(#gk)"/><circle cx="239.2" cy="375.9" r="3.80" fill="url(#gk)"/><circle cx="233.3" cy="383.1" r="3.80" fill="url(#gk)"/><circle cx="251.4" cy="379.8" r="4.60" fill="url(#gh)"/><circle cx="259.6" cy="374.9" r="2.60" fill="url(#gr)"/><circle cx="257.5" cy="373.0" r="2.20" fill="url(#gm)"/><circle cx="268.7" cy="388.5" r="3.60" fill="url(#gk)"/><circle cx="288.7" cy="377.0" r="3.80" fill="url(#gk)"/><circle cx="296.6" cy="384.7" r="3.60" fill="url(#gk)"/><circle cx="291.2" cy="389.0" r="2.40" fill="url(#gr)"/><circle cx="289.0" cy="407.6" r="4.60" fill="url(#gp)"/><circle cx="282.5" cy="412.2" r="4.00" fill="url(#gp)"/><circle cx="274.8" cy="411.9" r="2.60" fill="url(#gm)"/><circle cx="267.7" cy="409.0" r="2.40" fill="url(#gm)"/><circle cx="262.2" cy="412.6" r="2.40" fill="url(#gm)"/><circle cx="294.4" cy="415.8" r="2.60" fill="url(#gr)"/><circle cx="283.0" cy="418.4" r="2.40" fill="url(#gm)"/><circle cx="271.0" cy="420.7" r="3.80" fill="url(#gk)"/><circle cx="228.1" cy="416.8" r="2.60" fill="url(#gr)"/><circle cx="263.8" cy="434.3" r="2.20" fill="url(#gm)"/><circle cx="267.1" cy="434.8" r="2.20" fill="url(#gr)"/><circle cx="269.9" cy="438.1" r="2.40" fill="url(#gm)"/><circle cx="273.6" cy="440.4" r="2.80" fill="url(#gp)"/><circle cx="218.6" cy="439.7" r="2.40" fill="url(#gr)"/><circle cx="227.3" cy="447.4" r="4.40" fill="url(#gp)"/><circle cx="242.5" cy="445.8" r="4.40" fill="url(#go)"/></g><rect x="216.0" y="368.7" width="84.8" height="84.6" fill="none" stroke="#6e6e6e" stroke-width="1.2"/><clipPath id="cp23"><rect x="306.5" y="368.7" width="84.7" height="84.6"/></clipPath><g clip-path="url(#cp23)"><rect x="306.5" y="368.7" width="84.7" height="84.6" fill="#fffaf5"/><g transform="rotate(5 349.0 411.2)"><rect x="281.5" y="343.7" width="135.0" height="135.0" filter="url(#tex)" opacity="0.60"/></g><circle cx="340.7" cy="369.6" r="2.60" fill="url(#gm)"/><circle cx="334.2" cy="371.6" r="2.20" fill="url(#gl)"/><circle cx="358.1" cy="377.0" r="3.00" fill="url(#gr)"/><circle cx="340.1" cy="376.5" r="2.40" fill="url(#gl)"/><circle cx="330.2" cy="375.9" r="2.20" fill="url(#gl)"/><circle cx="369.6" cy="375.4" r="2.40" fill="url(#gl)"/><circle cx="377.7" cy="384.1" r="3.00" fill="url(#gr)"/><circle cx="373.5" cy="386.3" r="2.60" fill="url(#gl)"/><circle cx="316.2" cy="388.0" r="3.00" fill="url(#gm)"/><circle cx="356.0" cy="388.5" r="2.80" fill="url(#gm)"/><circle cx="330.9" cy="393.4" r="2.40" fill="url(#gm)"/><circle cx="351.5" cy="397.8" r="3.00" fill="url(#gr)"/><circle cx="344.5" cy="399.1" r="2.60" fill="url(#gm)"/><circle cx="372.3" cy="402.1" r="2.60" fill="url(#gl)"/><circle cx="358.1" cy="408.1" r="2.60" fill="url(#gm)"/><circle cx="353.5" cy="411.9" r="2.40" fill="url(#gl)"/><circle cx="375.6" cy="411.9" r="2.40" fill="url(#gl)"/><circle cx="373.5" cy="417.5" r="2.80" fill="url(#gl)"/><circle cx="339.6" cy="430.6" r="2.60" fill="url(#gl)"/><circle cx="353.8" cy="433.2" r="2.20" fill="url(#gl)"/><circle cx="319.4" cy="438.8" r="2.40" fill="url(#gm)"/><circle cx="309.6" cy="438.8" r="2.40" fill="url(#gl)"/><circle cx="363.7" cy="439.7" r="2.60" fill="url(#gl)"/><circle cx="374.5" cy="435.5" r="2.20" fill="url(#gl)"/><circle cx="329.8" cy="449.1" r="2.60" fill="url(#gm)"/></g><rect x="306.5" y="368.7" width="84.7" height="84.6" fill="none" stroke="#6e6e6e" stroke-width="1.2"/><clipPath id="cp24"><rect x="396.5" y="368.7" width="85.1" height="84.6"/></clipPath><g clip-path="url(#cp24)"><rect x="396.5" y="368.7" width="85.1" height="84.6" fill="#fffaf5"/><g transform="rotate(-35 439.0 411.2)"><rect x="371.5" y="343.7" width="135.0" height="135.0" filter="url(#tex)" opacity="0.55"/></g><circle cx="421.4" cy="369.6" r="2.40" fill="url(#gl)"/><circle cx="422.2" cy="376.2" r="2.60" fill="url(#gm)"/><circle cx="430.1" cy="378.2" r="2.40" fill="url(#gl)"/><circle cx="448.1" cy="378.2" r="2.60" fill="url(#gm)"/><circle cx="459.9" cy="375.9" r="2.40" fill="url(#gl)"/><circle cx="407.1" cy="388.5" r="3.00" fill="url(#gm)"/><circle cx="420.9" cy="393.9" r="2.40" fill="url(#gl)"/><circle cx="441.5" cy="385.7" r="2.20" fill="url(#gl)"/><circle cx="447.1" cy="389.0" r="2.40" fill="url(#gl)"/><circle cx="466.8" cy="388.0" r="2.60" fill="url(#gl)"/><circle cx="471.7" cy="388.5" r="2.20" fill="url(#gl)"/><circle cx="456.9" cy="384.4" r="2.20" fill="url(#gl)"/><circle cx="458.2" cy="394.2" r="2.20" fill="url(#gl)"/><circle cx="435.0" cy="399.9" r="2.40" fill="url(#gm)"/><circle cx="462.8" cy="402.7" r="2.20" fill="url(#gl)"/><circle cx="443.8" cy="411.9" r="2.60" fill="url(#gm)"/><circle cx="449.7" cy="409.3" r="2.40" fill="url(#gm)"/><circle cx="466.4" cy="412.6" r="2.40" fill="url(#gl)"/><circle cx="474.3" cy="417.5" r="2.20" fill="url(#gl)"/><circle cx="464.5" cy="419.1" r="2.60" fill="url(#gl)"/><circle cx="409.9" cy="421.2" r="2.40" fill="url(#gl)"/><circle cx="430.7" cy="430.6" r="2.40" fill="url(#gl)"/><circle cx="444.8" cy="433.8" r="2.20" fill="url(#gl)"/><circle cx="450.4" cy="434.8" r="2.60" fill="url(#gm)"/><circle cx="454.6" cy="440.4" r="2.40" fill="url(#gm)"/><circle cx="400.1" cy="439.7" r="2.20" fill="url(#gl)"/><circle cx="420.9" cy="449.6" r="2.60" fill="url(#gm)"/><circle cx="478.7" cy="438.8" r="2.20" fill="url(#gl)"/><circle cx="474.3" cy="446.3" r="2.20" fill="url(#gl)"/></g><rect x="396.5" y="368.7" width="85.1" height="84.6" fill="none" stroke="#6e6e6e" stroke-width="1.2"/><clipPath id="cp30"><rect x="35.3" y="459.2" width="84.6" height="84.8"/></clipPath><g clip-path="url(#cp30)"><rect x="35.3" y="459.2" width="84.6" height="84.8" fill="#fffaf5"/><g transform="rotate(-35 77.8 501.7)"><rect x="10.299999999999997" y="434.2" width="135.0" height="135.0" filter="url(#tex)" opacity="0.90"/></g><circle cx="44.0" cy="470.8" r="4.00" fill="url(#gq)"/><circle cx="97.2" cy="475.7" r="4.00" fill="url(#go)"/><circle cx="106.3" cy="479.0" r="4.00" fill="url(#gq)"/><circle cx="81.7" cy="482.3" r="4.00" fill="url(#gq)"/><circle cx="41.6" cy="491.8" r="4.00" fill="url(#gq)"/><circle cx="45.5" cy="491.5" r="2.40" fill="url(#gl)"/><circle cx="49.5" cy="492.0" r="2.40" fill="url(#gl)"/><circle cx="83.8" cy="494.7" r="4.20" fill="url(#go)"/><circle cx="35.8" cy="509.0" r="3.40" fill="url(#gq)"/><circle cx="116.1" cy="513.4" r="4.20" fill="url(#gq)"/><circle cx="63.2" cy="522.6" r="4.20" fill="url(#go)"/></g><rect x="35.3" y="459.2" width="84.6" height="84.8" fill="none" stroke="#6e6e6e" stroke-width="1.2"/><clipPath id="cp31"><rect x="125.6" y="459.2" width="84.8" height="84.8"/></clipPath><g clip-path="url(#cp31)"><rect x="125.6" y="459.2" width="84.8" height="84.8" fill="#fffaf5"/><g transform="rotate(-15 168.1 501.7)"><rect x="100.6" y="434.2" width="135.0" height="135.0" filter="url(#tex)" opacity="0.70"/></g><circle cx="164.0" cy="465.9" r="4.00" fill="url(#go)"/><circle cx="177.7" cy="467.2" r="3.20" fill="url(#gp)"/><circle cx="182.7" cy="471.3" r="4.00" fill="url(#go)"/><circle cx="170.0" cy="475.1" r="3.60" fill="url(#gd)"/><circle cx="193.0" cy="473.4" r="3.60" fill="url(#gd)"/><circle cx="207.7" cy="477.8" r="3.80" fill="url(#go)"/><circle cx="182.0" cy="493.4" r="4.00" fill="url(#go)"/><circle cx="175.0" cy="504.0" r="3.60" fill="url(#gd)"/><circle cx="134.0" cy="507.8" r="3.80" fill="url(#gp)"/><circle cx="170.0" cy="512.7" r="2.40" fill="url(#gm)"/><circle cx="178.2" cy="522.1" r="4.00" fill="url(#go)"/><circle cx="167.9" cy="530.7" r="3.60" fill="url(#gd)"/><circle cx="131.2" cy="538.0" r="4.60" fill="url(#go)"/></g><rect x="125.6" y="459.2" width="84.8" height="84.8" fill="none" stroke="#6e6e6e" stroke-width="1.2"/><clipPath id="cp32"><rect x="216.0" y="459.2" width="84.8" height="84.8"/></clipPath><g clip-path="url(#cp32)"><rect x="216.0" y="459.2" width="84.8" height="84.8" fill="#fffaf5"/><g transform="rotate(5 258.5 501.7)"><rect x="191.0" y="434.2" width="135.0" height="135.0" filter="url(#tex)" opacity="0.70"/></g><circle cx="245.3" cy="461.0" r="3.20" fill="url(#go)"/><circle cx="262.2" cy="475.4" r="4.00" fill="url(#gq)"/><circle cx="221.6" cy="482.8" r="4.40" fill="url(#go)"/><circle cx="253.5" cy="485.5" r="3.50" fill="url(#gp)"/><circle cx="260.9" cy="488.5" r="3.00" fill="url(#gd)"/><circle cx="257.9" cy="497.0" r="2.40" fill="url(#gm)"/><circle cx="256.8" cy="498.5" r="2.20" fill="url(#gm)"/><circle cx="269.4" cy="502.9" r="2.40" fill="url(#gl)"/><circle cx="269.9" cy="509.4" r="3.10" fill="url(#gp)"/><circle cx="260.9" cy="512.7" r="2.60" fill="url(#gl)"/><circle cx="272.7" cy="524.2" r="3.80" fill="url(#gq)"/><circle cx="300.2" cy="524.5" r="3.40" fill="url(#go)"/><circle cx="224.0" cy="528.6" r="2.40" fill="url(#gm)"/><circle cx="230.6" cy="534.7" r="3.60" fill="url(#gq)"/><circle cx="235.0" cy="541.7" r="3.60" fill="url(#gp)"/><circle cx="276.9" cy="482.3" r="2.40" fill="url(#gl)"/></g><rect x="216.0" y="459.2" width="84.8" height="84.8" fill="none" stroke="#6e6e6e" stroke-width="1.2"/><clipPath id="cp33"><rect x="306.5" y="459.2" width="84.7" height="84.8"/></clipPath><g clip-path="url(#cp33)"><rect x="306.5" y="459.2" width="84.7" height="84.8" fill="#fffaf5"/><g transform="rotate(-35 349.0 501.7)"><rect x="281.5" y="434.2" width="135.0" height="135.0" filter="url(#tex)" opacity="0.60"/></g><circle cx="335.8" cy="460.3" r="2.60" fill="url(#gl)"/><circle cx="364.1" cy="461.0" r="3.60" fill="url(#go)"/><circle cx="345.3" cy="469.6" r="3.80" fill="url(#go)"/><circle cx="352.2" cy="473.4" r="3.60" fill="url(#go)"/><circle cx="361.4" cy="476.2" r="3.80" fill="url(#gp)"/><circle cx="346.1" cy="477.3" r="3.80" fill="url(#gp)"/><circle cx="379.7" cy="482.8" r="3.40" fill="url(#go)"/><circle cx="312.6" cy="486.0" r="2.60" fill="url(#gm)"/><circle cx="333.5" cy="485.2" r="3.40" fill="url(#gp)"/><circle cx="353.2" cy="486.0" r="4.00" fill="url(#gp)"/><circle cx="366.6" cy="484.4" r="4.00" fill="url(#gp)"/><circle cx="343.3" cy="484.9" r="2.40" fill="url(#gl)"/><circle cx="312.6" cy="501.9" r="4.40" fill="url(#gp)"/><circle cx="332.5" cy="498.6" r="4.00" fill="url(#gp)"/><circle cx="348.9" cy="498.0" r="2.60" fill="url(#gm)"/><circle cx="358.1" cy="502.4" r="2.20" fill="url(#gl)"/><circle cx="345.0" cy="506.5" r="2.40" fill="url(#gl)"/><circle cx="361.4" cy="506.8" r="3.80" fill="url(#gp)"/><circle cx="371.8" cy="509.4" r="4.60" fill="url(#go)"/><circle cx="350.6" cy="511.7" r="2.40" fill="url(#gl)"/><circle cx="335.2" cy="512.7" r="2.40" fill="url(#gl)"/><circle cx="389.9" cy="509.4" r="2.40" fill="url(#gl)"/><circle cx="317.8" cy="530.7" r="2.40" fill="url(#gl)"/><circle cx="322.0" cy="541.2" r="2.80" fill="url(#gm)"/></g><rect x="306.5" y="459.2" width="84.7" height="84.8" fill="none" stroke="#6e6e6e" stroke-width="1.2"/><clipPath id="cp34"><rect x="396.5" y="459.2" width="85.1" height="84.8"/></clipPath><g clip-path="url(#cp34)"><rect x="396.5" y="459.2" width="85.1" height="84.8" fill="#fffaf5"/><g transform="rotate(-15 439.0 501.7)"><rect x="371.5" y="434.2" width="135.0" height="135.0" filter="url(#tex)" opacity="0.65"/></g><circle cx="398.5" cy="461.0" r="2.60" fill="url(#gm)"/><circle cx="403.4" cy="464.2" r="2.20" fill="url(#gl)"/><circle cx="479.9" cy="466.4" r="2.20" fill="url(#gl)"/><circle cx="442.7" cy="474.6" r="2.80" fill="url(#gm)"/><circle cx="452.0" cy="477.3" r="3.80" fill="url(#gp)"/><circle cx="475.4" cy="477.3" r="3.80" fill="url(#gp)"/><circle cx="413.5" cy="482.6" r="2.60" fill="url(#gr)"/><circle cx="415.7" cy="483.6" r="3.60" fill="url(#gp)"/><circle cx="424.2" cy="486.0" r="2.60" fill="url(#gl)"/><circle cx="434.0" cy="484.9" r="2.40" fill="url(#gl)"/><circle cx="428.8" cy="491.4" r="2.60" fill="url(#gl)"/><circle cx="462.8" cy="490.9" r="3.00" fill="url(#gp)"/><circle cx="468.9" cy="493.4" r="2.20" fill="url(#gl)"/><circle cx="475.0" cy="498.6" r="3.60" fill="url(#gp)"/><circle cx="428.4" cy="502.4" r="2.60" fill="url(#gm)"/><circle cx="449.2" cy="502.4" r="2.20" fill="url(#gl)"/><circle cx="452.5" cy="507.5" r="3.40" fill="url(#go)"/><circle cx="450.0" cy="509.4" r="4.30" fill="url(#gd)"/><circle cx="441.0" cy="512.2" r="2.60" fill="url(#gl)"/><circle cx="462.8" cy="511.1" r="2.40" fill="url(#gm)"/><circle cx="470.0" cy="525.3" r="2.80" fill="url(#gl)"/><circle cx="478.7" cy="524.5" r="2.20" fill="url(#gl)"/><circle cx="463.5" cy="530.7" r="2.60" fill="url(#gl)"/><circle cx="408.8" cy="531.9" r="2.60" fill="url(#gl)"/><circle cx="438.9" cy="537.3" r="3.80" fill="url(#gd)"/><circle cx="465.6" cy="537.3" r="2.20" fill="url(#gl)"/></g><rect x="396.5" y="459.2" width="85.1" height="84.8" fill="none" stroke="#6e6e6e" stroke-width="1.2"/><line x1="470.5" x2="478.8" y1="540.2" y2="540.2" stroke="#222" stroke-width="1.2"/></svg></body></html>
